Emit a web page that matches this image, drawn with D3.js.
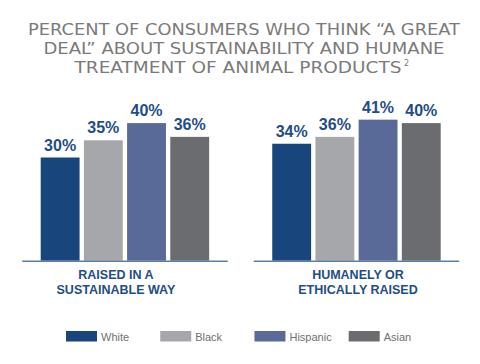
<!DOCTYPE html>
<html><head><meta charset="utf-8">
<script src="https://cdn.jsdelivr.net/npm/d3@7"></script>
<style>body{margin:0;background:#fff}svg{display:block}</style>
</head><body>
<script>
const categories = ["RAISED IN A|SUSTAINABLE WAY", "HUMANELY OR|ETHICALLY RAISED"];
const series = ["White", "Black", "Hispanic", "Asian"];
const white = [30, 34];
const black = [35, 36];
const hispanic = [40, 41];
const asian = [36, 40];
const colors = ["#17457c", "#a6a7aa", "#5a6a98", "#6b6c70"];
const titleLines = ["PERCENT OF CONSUMERS WHO THINK \u201CA GREAT", "DEAL\u201D ABOUT SUSTAINABILITY AND HUMANE", "TREATMENT OF ANIMAL PRODUCTS"];

const valuesBySeries = [white, black, hispanic, asian];
const W = 480, H = 364;
const svg = d3.select("body").append("svg").attr("width", W).attr("height", H);

// Title
const titleWidths = [432, 401, 327];
const titleY = [34.5, 53.5, 72.5];
titleLines.forEach((t, i) => {
  svg.append("text").attr("x", i === 2 ? 238 : 244).attr("y", titleY[i])
    .attr("text-anchor", "middle")
    .attr("font-family", "'DejaVu Sans', sans-serif").attr("font-weight", 400)
    .attr("font-size", 16).attr("fill", "#7a7a7a")
    .attr("textLength", titleWidths[i]).attr("lengthAdjust", "spacingAndGlyphs")
    .text(t);
});
svg.append("text").attr("x", 404).attr("y", 66).attr("font-family", "'DejaVu Sans', sans-serif")
  .attr("font-size", 8).attr("fill", "#7a7a7a").text("2");

const x0 = d3.scaleBand().domain(categories).range([40.7, 440.7]).paddingInner(0.2725).paddingOuter(0);
const x1 = d3.scaleBand().domain(series).range([0, x0.bandwidth()]).paddingInner(0.1);
const y = d3.scaleLinear().domain([0, 100]).range([260.7, 260.7 - 344]);

const g = svg.append("g");
categories.forEach((c, ci) => {
  const grp = g.append("g").attr("transform", `translate(${x0(c)},0)`);
  series.forEach((s, si) => {
    const v = valuesBySeries[si][ci];
    grp.append("rect").attr("x", x1(s)).attr("y", y(v))
      .attr("width", x1.bandwidth()).attr("height", y(0) - y(v))
      .attr("fill", colors[si]);
    grp.append("text").attr("x", x1(s) + x1.bandwidth() / 2).attr("y", y(v) - 7)
      .attr("text-anchor", "middle").attr("font-family", "'Liberation Sans', Arial, sans-serif")
      .attr("font-weight", "bold").attr("font-size", 16).attr("fill", "#1f4d86")
      .text(v + "%");
  });
  // baseline
  grp.append("line").attr("x1", -18.5).attr("x2", x0.bandwidth() + 18.5)
    .attr("y1", y(0) + 0.5).attr("y2", y(0) + 0.5)
    .attr("stroke", "#5b7ea8").attr("stroke-width", 1.6);
});

// category labels
const labelShift = [-9, 1.5];
categories.forEach((c, ci) => {
  const cx = x0(c) + x0.bandwidth() / 2 + labelShift[ci];
  c.split("|").forEach((line, li) => {
    svg.append("text").attr("x", cx).attr("y", 278.5 + li * 15)
      .attr("text-anchor", "middle").attr("font-family", "'Liberation Sans', Arial, sans-serif")
      .attr("font-weight", "bold").attr("font-size", 12.5).attr("fill", "#1f4d86")
      .text(line);
  });
});

// legend
const lx = d3.scalePoint().domain(series).range([66, 348.7]);
series.forEach((s, si) => {
  svg.append("rect").attr("x", lx(s)).attr("y", 331).attr("width", 31).attr("height", 10.5)
    .attr("fill", colors[si]);
  svg.append("text").attr("x", lx(s) + 35).attr("y", 340.5)
    .attr("font-family", "'Liberation Sans', Arial, sans-serif").attr("font-size", 11)
    .attr("fill", "#707070").text(s);
});
</script>
</body></html>
